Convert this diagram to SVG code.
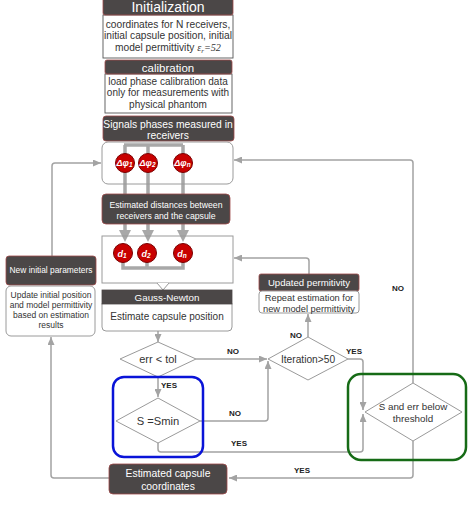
<svg xmlns="http://www.w3.org/2000/svg" width="474" height="513" viewBox="0 0 474 513">
<defs>
<marker id="arr" markerUnits="userSpaceOnUse" markerWidth="8" markerHeight="7" refX="8" refY="3.5" orient="auto">
<path d="M0,0 L8,3.5 L0,7 z" fill="#a3a3a3"/>
</marker>
<style>
.hdr{fill:#4b4747;stroke:#a04a4a;stroke-width:0.8}
.body{fill:#fff;stroke:#555;stroke-width:0.9}
.lbox{fill:#fff;stroke:#9a9a9a;stroke-width:1}
.ht{font-family:"Liberation Sans",Arial,sans-serif;fill:#fff;text-anchor:middle}
.bt{font-family:"Liberation Sans",Arial,sans-serif;fill:#333;text-anchor:middle}
.lab{font-family:"Liberation Sans",Arial,sans-serif;font-weight:bold;font-size:8px;fill:#222;text-anchor:middle}
.con{fill:none;stroke:#a3a3a3;stroke-width:1.5;stroke-linejoin:round}
.bar{fill:none;stroke:#a8a8a8;stroke-width:3.5}
.dia{fill:#fff;stroke:#9a9a9a;stroke-width:1}
.circ{fill:#c80000;stroke:#7a0000;stroke-width:1}
.ct{font-family:"Liberation Sans",Arial,sans-serif;font-weight:bold;font-style:italic;font-size:9px;fill:#fff;text-anchor:middle}
</style>
</defs>
<rect width="474" height="513" fill="#fff"/>

<g id="bars">
<path class="bar" d="M124,145 H183 M125,145 V231 M148,145 V231 M183,145 V231"/>
<polygon points="119,230 131,230 125,242" fill="#a8a8a8"/>
<polygon points="142,230 154,230 148,242" fill="#a8a8a8"/>
<polygon points="177,230 189,230 183,242" fill="#a8a8a8"/>
</g>

<g id="connectors">
<path class="con" d="M158,331 V342" marker-end="url(#arr)"/>
<path class="con" d="M196,359 H267" marker-end="url(#arr)"/>
<path class="con" d="M158,377 V397" marker-end="url(#arr)"/>
<path class="con" d="M200,421 H265 Q268,421 268,418 V361" marker-end="url(#arr)"/>
<path class="con" d="M158,443 V449 Q158,452 161,452 H360 Q363,452 363,449 V414" marker-end="url(#arr)"/>
<path class="con" d="M348,359 H360 Q363,359 363,362 V410" marker-end="url(#arr)"/>
<path class="con" d="M308,337 V314" marker-end="url(#arr)"/>
<path class="con" d="M309,274 V261 Q309,258 306,258 H234" marker-end="url(#arr)"/>
<path class="con" d="M413,383 V163 Q413,160 410,160 H234" marker-end="url(#arr)"/>
<path class="con" d="M413,441 V475 Q413,478 410,478 H229" marker-end="url(#arr)"/>
<path class="con" d="M109,478 H54 Q51,478 51,475 V337" marker-end="url(#arr)"/>
<path class="con" d="M52,256 V166 Q52,163 55,163 H101" marker-end="url(#arr)"/>
</g>

<g id="labels">
<text class="lab" x="233" y="354">NO</text>
<text class="lab" x="354" y="354">YES</text>
<text class="lab" x="296" y="338">NO</text>
<text class="lab" x="398" y="291">NO</text>
<text class="lab" x="169" y="388">YES</text>
<text class="lab" x="235" y="416">NO</text>
<text class="lab" x="239" y="446">YES</text>
<text class="lab" x="302" y="473">YES</text>
</g>

<g id="initialization">
<rect class="body" x="103" y="15" width="130" height="43"/>
<rect class="hdr" x="103" y="-2" width="130" height="17" rx="2"/>
<text class="ht" x="168" y="12" font-size="14">Initialization</text>
<text class="bt" x="168" y="27.5" font-size="10.2">coordinates for N receivers,</text>
<text class="bt" x="168" y="39" font-size="10.2">initial capsule position, initial</text>
<text class="bt" x="168" y="50.5" font-size="10.2">model permittivity <tspan font-family="'Liberation Serif',serif" font-style="italic">ε<tspan font-size="7" dy="2">r</tspan><tspan dy="-2">=52</tspan></tspan></text>
</g>

<g id="calibration">
<rect class="body" x="105" y="74" width="127" height="39"/>
<rect class="hdr" x="105" y="60" width="127" height="14" rx="2"/>
<text class="ht" x="168" y="71.5" font-size="11.5">calibration</text>
<text class="bt" x="168" y="85" font-size="10">load phase calibration data</text>
<text class="bt" x="168" y="96" font-size="10">only for measurements with</text>
<text class="bt" x="168" y="107.5" font-size="10">physical phantom</text>
</g>

<g id="signals">
<rect class="hdr" x="103" y="116" width="131" height="25" rx="3"/>
<text class="ht" x="168" y="128" font-size="10.3">Signals phases measured in</text>
<text class="ht" x="168" y="139" font-size="10.3">receivers</text>
</g>

<g id="phi-box">
<rect class="lbox" x="102" y="142" width="131" height="42" rx="6" style="fill:none"/>
<circle class="circ" cx="125" cy="163" r="9.5"/>
<circle class="circ" cx="148" cy="163" r="9.5"/>
<circle class="circ" cx="183" cy="163" r="9.5"/>
<text class="ct" x="124.5" y="166">Δφ<tspan font-size="6.5" dy="1">1</tspan></text>
<text class="ct" x="147.5" y="166">Δφ<tspan font-size="6.5" dy="1">2</tspan></text>
<text class="ct" x="182.5" y="166">Δφ<tspan font-size="6.5" dy="1">n</tspan></text>
</g>

<g id="distances">
<rect class="hdr" x="102" y="194" width="128" height="30" rx="4"/>
<text class="ht" x="166" y="207.5" font-size="8.7">Estimated distances between</text>
<text class="ht" x="166" y="218.5" font-size="8.7">receivers and the capsule</text>
</g>

<g id="d-box">
<rect class="lbox" x="102" y="236" width="131" height="47" style="fill:none"/>
<path d="M157,283 L163,290 L169,283" fill="#fff" stroke="#9a9a9a" stroke-width="1"/>
<path class="bar" d="M123,253 V268 H183 V253 M147,253 V268"/>
<circle class="circ" cx="123" cy="253" r="9.5"/>
<circle class="circ" cx="147" cy="253" r="9.5"/>
<circle class="circ" cx="183" cy="253" r="9.5"/>
<text class="ct" x="122" y="256.5">d<tspan font-size="6.5" dy="1">1</tspan></text>
<text class="ct" x="146" y="256.5">d<tspan font-size="6.5" dy="1">2</tspan></text>
<text class="ct" x="182" y="256.5">d<tspan font-size="6.5" dy="1">n</tspan></text>
</g>

<g id="gauss-newton">
<rect class="lbox" x="102" y="300" width="130" height="31" rx="4"/>
<rect class="hdr" x="102" y="290" width="130" height="14" style="stroke:#4b4747"/>
<text class="ht" x="167" y="300.5" font-size="9.8">Gauss-Newton</text>
<text class="bt" x="167" y="320" font-size="10">Estimate capsule position</text>
</g>

<g id="new-params">
<rect class="hdr" x="6" y="256" width="90" height="29" rx="3"/>
<text class="ht" x="51" y="273" font-size="8.4">New initial parameters</text>
<rect class="lbox" x="6" y="286" width="89" height="50" rx="5"/>
<text class="bt" x="51" y="297.5" font-size="8.5">Update initial position</text>
<text class="bt" x="51" y="308" font-size="8.5">and model permittivity</text>
<text class="bt" x="51" y="318" font-size="8.5">based on estimation</text>
<text class="bt" x="51" y="328" font-size="8.5">results</text>
</g>

<g id="updated-permitivity">
<rect class="hdr" x="259" y="274" width="100" height="17" rx="2"/>
<text class="ht" x="309" y="286" font-size="9.6">Updated permitivity</text>
<rect class="lbox" x="259" y="291" width="100" height="22" rx="3"/>
<text class="bt" x="309" y="300.5" font-size="9.3">Repeat estimation for</text>
<text class="bt" x="309" y="311.5" font-size="9.3">new model permittivity</text>
</g>

<g id="err-tol">
<polygon class="dia" points="120,359 158,342 196,359 158,377"/>
<text class="bt" x="158" y="363" font-size="11">err &lt; tol</text>
</g>

<g id="iteration">
<polygon class="dia" points="268,359 308,337 348,359 308,380"/>
<text class="bt" x="308" y="362.5" font-size="10.2">Iteration&gt;50</text>
</g>

<g id="s-smin">
<polygon class="dia" points="116,421 158,398 200,421 158,443"/>
<text class="bt" x="158" y="425" font-size="11.2">S =Smin</text>
<rect x="113" y="377" width="90" height="80" rx="11" fill="none" stroke="#0a14d8" stroke-width="2.5"/>
</g>

<g id="s-err">
<polygon class="dia" points="365,412 413,383 462,412 413,441"/>
<text class="bt" x="413" y="409.5" font-size="9.8">S and err below</text>
<text class="bt" x="413" y="421.5" font-size="9.8">threshold</text>
<rect x="348" y="374" width="118" height="86" rx="13" fill="none" stroke="#166b16" stroke-width="2.5"/>
</g>

<g id="estimated-coords">
<rect class="hdr" x="109" y="464" width="118" height="30" rx="4"/>
<text class="ht" x="168" y="476.5" font-size="10.4">Estimated capsule</text>
<text class="ht" x="168" y="489.5" font-size="10.4">coordinates</text>
</g>
</svg>
